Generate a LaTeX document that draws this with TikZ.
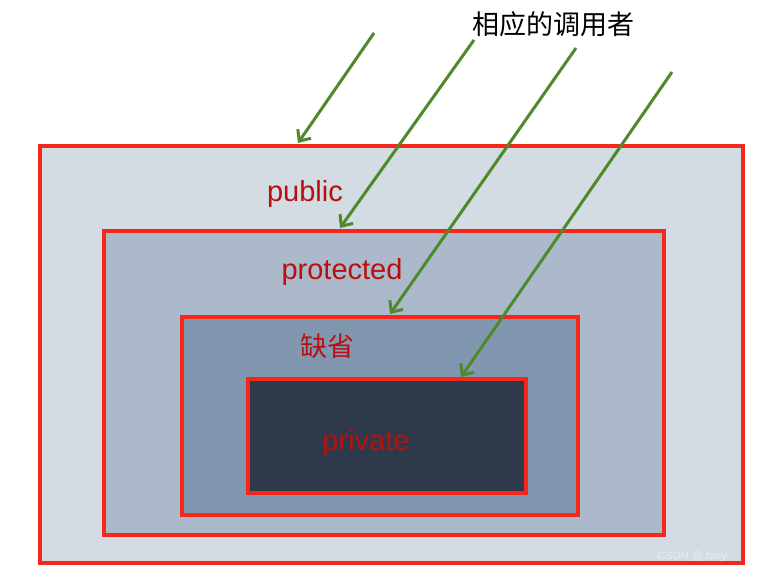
\documentclass[tikz,border=0pt]{standalone}
\usepackage{fontspec}
\setmainfont{Liberation Sans}
\newfontfamily\cjk{Noto Sans CJK SC}
\usetikzlibrary{arrows.meta}
\definecolor{redb}{HTML}{F5261A}
\definecolor{lbl}{HTML}{B81010}
\definecolor{grn}{HTML}{4E8A2C}
\definecolor{fa}{HTML}{D3DBE3}
\definecolor{fb}{HTML}{ABB9CA}
\definecolor{fc}{HTML}{8197B0}
\definecolor{fd}{HTML}{2E3A4A}
\begin{document}
\begin{tikzpicture}[x=1pt,y=-1pt,
  box/.style={draw=redb,line width=3.2pt},
  arr/.style={draw=grn,line width=3pt,-{Straight Barb[length=9pt,width=16pt,line width=3pt]}},
  lab/.style={text=lbl,font=\fontsize{29}{30}\selectfont,inner sep=0pt}]
\useasboundingbox[fill=white] (0,0) rectangle (758,575);
\draw[box,fill=fa] (40,146) rectangle (743,563);
\draw[box,fill=fb] (104,231) rectangle (664,535);
\draw[box,fill=fc] (182,317) rectangle (578,515);
\draw[box,fill=fd] (248,379) rectangle (526,493);
\node[inner sep=0pt,font=\cjk\fontsize{27}{28}\selectfont] (title) at (553,24) {相应的调用者};
\node[lab] (pub) at (305,194) {public};
\node[lab] (pro) at (342,272) {protected};
\node[lab,font=\cjk\fontsize{27}{28}\selectfont] (def) at (327,346) {缺省};
\node[lab] (pri) at (366,443) {private};
\node[inner sep=0pt,text=white!85!gray,font=\fontsize{11}{12}\selectfont] (csdn) at (694,557) {CSDN @.fairy-};
\coordinate (s1) at (374,33); \coordinate (e1) at (298,143);
\coordinate (s2) at (474,40); \coordinate (e2) at (340,228);
\coordinate (s3) at (576,48); \coordinate (e3) at (390,314);
\coordinate (s4) at (672,72); \coordinate (e4) at (461,377);
\draw[arr] (s1) -- (e1);
\draw[arr] (s2) -- (e2);
\draw[arr] (s3) -- (e3);
\draw[arr] (s4) -- (e4);
\end{tikzpicture}
\end{document}
